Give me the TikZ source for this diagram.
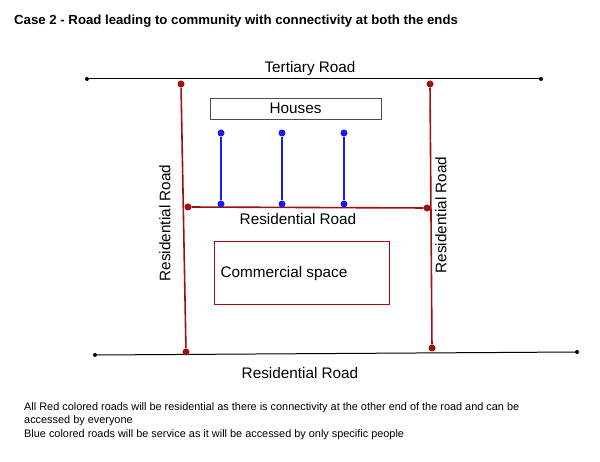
\documentclass[tikz,border=0pt]{standalone}
\usepackage{fontspec}
\setmainfont{Liberation Sans}
\definecolor{rd}{HTML}{A01010}
\definecolor{bl}{HTML}{1A1AF0}
\begin{document}
\begin{tikzpicture}[x=1pt,y=-1pt,
  dotc/.style={circle,fill=#1,inner sep=0pt,minimum size=7pt},
  lbl/.style={font=\fontsize{15.3}{18}\selectfont,inner sep=1pt},
  boxn/.style={draw=#1,line width=0.7pt,inner sep=0pt}]
\useasboundingbox (0,0) rectangle (600,462);
\node[anchor=west,inner sep=0pt,font=\bfseries\fontsize{13.2}{15}\selectfont] (title) at (14,21) {Case 2 - Road leading to community with connectivity at both the ends};
% tertiary road
\node[dotc=black,minimum size=4pt] (t1) at (87,79) {};
\node[dotc=black,minimum size=4pt] (t2) at (541,79) {};
\draw[line width=1pt] (t1) -- (t2);
\node[lbl] (tl) at (310,69) {Tertiary Road};
% bottom road
\node[dotc=black,minimum size=4pt] (b1) at (95,355) {};
\node[dotc=black,minimum size=4pt] (b2) at (577,352) {};
\draw[line width=1pt] (b1) -- (b2);
\node[lbl] (bl) at (300,373) {Residential Road};
% red verticals
\node[dotc=rd] (l1) at (181,84) {};
\node[dotc=rd] (l2) at (186,352) {};
\node[dotc=rd] (r1) at (430,84) {};
\node[dotc=rd] (r2) at (432,348) {};
\draw[rd,line width=1.6pt] (l1) -- (l2);
\draw[rd,line width=1.6pt] (r1) -- (r2);
\node[lbl,rotate=90] (ll) at (165,223) {Residential Road};
\node[lbl,rotate=90] (rl) at (441,215) {Residential Road};
% red horizontal
\node[dotc=rd] (h1) at (188,207) {};
\node[dotc=rd] (h2) at (427,208) {};
\draw[rd,line width=1.6pt] (h1) -- (h2);
\node[lbl] (hl) at (298,219) {Residential Road};
% houses
\node[boxn=black!70,minimum width=171pt,minimum height=21pt,lbl] (houses) at (295.5,108.5) {Houses};
% blue
\foreach \x/\n in {221/a,282/b,344/c}{
  \node[dotc=bl] (u\n) at (\x,133) {};
  \node[dotc=bl] (d\n) at (\x,204) {};
  \draw[bl,line width=1.6pt] (u\n) -- (d\n);
}
% commercial
\node[boxn=rd,minimum width=175pt,minimum height=63pt] (com) at (301.5,272.5) {};
\node[lbl] (cl) at (284,274) {Commercial space};
% footer
\node[anchor=north west,align=left,font=\fontsize{10.9}{13.5}\selectfont,inner sep=0pt] (foot) at (24,402)
{All Red colored roads will be residential as there is connectivity at the other end of the road and can be\\
accessed by everyone\\
Blue colored roads will be service as it will be accessed by only specific people};
\end{tikzpicture}
\end{document}
